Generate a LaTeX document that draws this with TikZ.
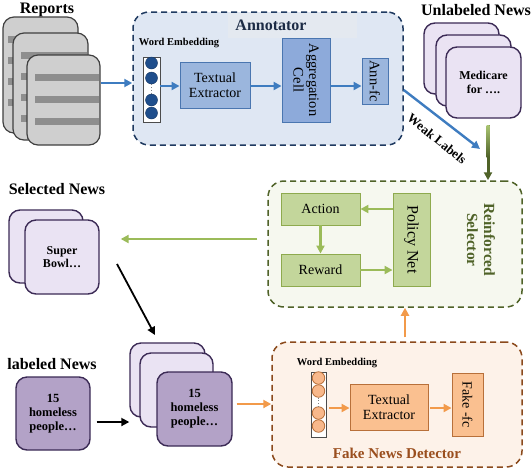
\documentclass[tikz,border=0pt]{standalone}
\usepackage{fontspec}
\setmainfont{Liberation Serif}
\usetikzlibrary{arrows.meta,calc}
\definecolor{annfill}{HTML}{DFE7F3}
\definecolor{annband}{HTML}{E4E9F0}
\definecolor{annborder}{HTML}{1F3A60}
\definecolor{bluebox}{HTML}{9BB6DD}
\definecolor{blueboxd}{HTML}{8DAADA}
\definecolor{blueline}{HTML}{4A76B0}
\definecolor{bluearrow}{HTML}{3E7CC0}
\definecolor{embblue}{HTML}{1F4E8C}
\definecolor{anntext}{HTML}{1C2B45}
\definecolor{docgray}{HTML}{CFCFCF}
\definecolor{bargray}{HTML}{8E8E8E}
\definecolor{docline}{HTML}{404040}
\definecolor{lav}{HTML}{EAE3F3}
\definecolor{purp}{HTML}{B3A2C7}
\definecolor{purpline}{HTML}{3B2A55}
\definecolor{selfill}{HTML}{F6F8EF}
\definecolor{selborder}{HTML}{4F6228}
\definecolor{greenbox}{HTML}{C3D69B}
\definecolor{greenline}{HTML}{8EAA4E}
\definecolor{greenarrow}{HTML}{9BBB59}
\definecolor{detfill}{HTML}{FDF2E9}
\definecolor{detborder}{HTML}{8B4A1C}
\definecolor{orangebox}{HTML}{FAC090}
\definecolor{orangeline}{HTML}{B8703A}
\definecolor{orangearrow}{HTML}{F29A4A}
\definecolor{embor}{HTML}{F8B88B}
\definecolor{dettext}{HTML}{9A4E1E}
\tikzset{
  graydoc/.style={draw=docline, fill=docgray, line width=1.2pt, rounded corners=11pt, inner sep=0pt},
  bar/.style={fill=bargray, draw=none},
  docbox/.style={draw=purpline, line width=1.4pt, rounded corners=11pt, inner sep=0pt, align=center,
    font=\fontsize{12.5}{14}\selectfont\bfseries},
  titletext/.style={font=\fontsize{16}{17}\selectfont\bfseries, inner sep=0pt},
  smalltitle/.style={font=\fontsize{10.5}{11}\selectfont\bfseries, inner sep=0pt},
  bigbox/.style={line width=1.5pt, dash pattern=on 6pt off 4pt, rounded corners=16pt, inner sep=0pt},
  blueblk/.style={draw=blueline, line width=0.9pt, inner sep=0pt, align=center, font=\fontsize{14}{15}\selectfont},
  greenblk/.style={draw=greenline, fill=greenbox, line width=0.9pt, inner sep=0pt, align=center, font=\fontsize{14}{15}\selectfont},
  orangeblk/.style={draw=orangeline, fill=orangebox, line width=0.9pt, inner sep=0pt, align=center, font=\fontsize{14}{15}\selectfont},
  bluearr/.style={draw=bluearrow, line width=2.4pt, -{Triangle[length=8pt,width=8pt]}},
  greenarr/.style={draw=greenarrow, line width=2.4pt, -{Triangle[length=8pt,width=8pt]}},
  orangearr/.style={draw=orangearrow, line width=2.4pt, -{Triangle[length=8pt,width=8pt]}},
  blackarr/.style={draw=black, line width=1.8pt, -{Triangle[length=8pt,width=8pt]}},
  embcol/.style={draw=black!70, line width=0.8pt, fill=white, inner sep=0pt},
}
\begin{document}
\begin{tikzpicture}[x=1pt,y=-1pt]
\useasboundingbox[fill=white] (0,0) rectangle (532,475);

% ---------------- Reports ----------------
\node[titletext] (reptitle) at (47,10) {Reports};
\node[graydoc, minimum width=75pt, minimum height=116pt] (rep1) at (40.5,75) {};
\foreach \o in {20,41,62,83}{\fill[bar] ($(rep1.north west)+(6,\o)$) rectangle ($(rep1.north east)+(-2,\o+7)$);}
\node[graydoc, minimum width=75pt, minimum height=107pt] (rep2) at (50.5,86.5) {};
\foreach \o in {20,41,62,83}{\fill[bar] ($(rep2.north west)+(9,\o)$) rectangle ($(rep2.north east)+(-2,\o+7)$);}
\node[graydoc, minimum width=73pt, minimum height=90pt] (rep3) at (63.5,100) {};
\foreach \o in {20,42,64}{\fill[bar] ($(rep3.north west)+(9,\o)$) rectangle ($(rep3.north east)+(-2,\o+7)$);}

% ---------------- Annotator ----------------
\node[bigbox, draw=annborder, fill=annfill, minimum width=270pt, minimum height=133pt] (ann) at (268,78.5) {};
\node[fill=annband, minimum width=129pt, minimum height=25pt, inner sep=0pt] (annband) at (292.5,25) {};
\node[font=\fontsize{16}{17}\selectfont\bfseries, text=anntext, inner sep=0pt] (anntitle) at (271,25) {Annotator};
\node[smalltitle] (we1) at (179,43) {Word Embedding};
\node[embcol, minimum width=17pt, minimum height=65pt] (emb1) at (151.5,89.5) {};
\foreach \yy/\nm in {63/a,78/b,100/c,113/d}{\node[circle, fill=embblue, draw=embblue!70!black, minimum size=12pt, inner sep=0pt] (c1\nm) at (151.5,\yy) {};}
\draw[black!50, line width=0.8pt, dotted] (c1b) -- (c1c);
\node[blueblk, fill=bluebox, minimum width=70pt, minimum height=46pt] (te1) at (215,85) {Textual\\Extractor};
\node[blueblk, fill=blueboxd, minimum width=84pt, minimum height=48pt, rotate=-90, font=\fontsize{14.5}{15.5}\selectfont] (agg) at (306,80) {Aggregation\\Cell};
\node[blueblk, fill=bluebox, minimum width=46pt, minimum height=26pt, rotate=-90, font=\fontsize{14.5}{15}\selectfont] (annfc) at (375,81) {Ann-fc};

\draw[bluearr] (rep3.east |- 0,83) -- (ann.west |- 0,83);
\draw[bluearr] (emb1.east |- 0,86) -- (te1.west |- 0,86);
\draw[bluearr] (te1.east |- 0,86) -- (agg.south |- 0,86);
\draw[bluearr] (agg.north |- 0,86) -- (annfc.south |- 0,86);

% ---------------- Unlabeled News ----------------
\node[titletext] (unltitle) at (476,10) {Unlabeled News};
\node[docbox, fill=lav, minimum width=75pt, minimum height=71pt] (unl1) at (461.5,58.5) {};
\node[docbox, fill=lav, minimum width=75pt, minimum height=71pt] (unl2) at (473.5,70.5) {};
\node[docbox, fill=lav, minimum width=75pt, minimum height=71pt, font=\fontsize{12}{14}\selectfont\bfseries] (unl3) at (483.5,82.5) {Medicare\\for ….};

% ---------------- Reinforced Selector ----------------
\node[bigbox, draw=selborder, fill=selfill, minimum width=254pt, minimum height=126pt] (sel) at (395,244) {};
\node[greenblk, minimum width=79pt, minimum height=32pt] (action) at (320.5,209) {Action};
\node[greenblk, minimum width=79pt, minimum height=32pt] (reward) at (320.5,270) {Reward};
\node[greenblk, minimum width=93pt, minimum height=37pt, rotate=-90, font=\fontsize{16}{17}\selectfont] (policy) at (411.5,239.5) {Policy Net};
\node[font=\fontsize{15.5}{17}\selectfont\bfseries, text=selborder, rotate=-90, align=center, inner sep=0pt] (seltitle) at (481,240) {Reinforced\\Selector};
\draw[greenarr] (policy.south |- action.east) -- (action.east);
\draw[greenarr] (action.south) -- (reward.north);
\draw[greenarr] (reward.east) -- (policy.south |- reward.east);

% weak labels
\coordinate (wlend) at (480,149);
\draw[bluearr] (ann.east |- 0,90) -- (wlend);
\node[font=\fontsize{13}{14}\selectfont\bfseries, rotate=-39, inner sep=0pt] (wl) at (437,139) {Weak Labels};

% green vertical arrow
\coordinate (gtop) at (488,125);
\draw[draw=selborder, line width=3pt, -{Triangle[length=8pt,width=8pt]}] (gtop) -- (gtop |- sel.north);
\shade[top color=greenarrow!85!white, bottom color=selborder] ($(gtop)+(-1.5,0)$) rectangle ($(gtop)+(1.5,32)$);

% ---------------- Selected News ----------------
\node[titletext] (seltit) at (57,189) {Selected News};
\node[docbox, fill=lav, minimum width=74pt, minimum height=73pt] (sn1) at (46,246.5) {};
\node[docbox, fill=lav, minimum width=74pt, minimum height=74pt, font=\fontsize{12}{13}\selectfont\bfseries] (sn2) at (62,257) {Super\\Bowl…};
\draw[greenarr] ($(sel.west |- 0,239)+(-10,0)$) -- ($(sn2.east |- 0,239)+(21,0)$);

% ---------------- Labeled News ----------------
\node[titletext] (labtitle) at (52,364) {labeled News};
\node[docbox, fill=purp, minimum width=74pt, minimum height=73pt] (lab) at (53,413.5) {15\\homeless\\people…};

% stacked
\node[docbox, fill=lav, minimum width=75pt, minimum height=74pt] (st1) at (167.5,380) {};
\node[docbox, fill=lav, minimum width=73pt, minimum height=74pt] (st2) at (176.5,390) {};
\node[docbox, fill=purp, minimum width=75pt, minimum height=74pt] (st3) at (194.5,409) {15\\homeless\\people…};

\coordinate (bkstart) at (117,264);
\coordinate (bkend) at (155,335);
\draw[blackarr] (bkstart) -- (bkend);
\draw[blackarr] ($(lab.east |- 0,422)+(6,0)$) -- (st1.west |- 0,422);

% ---------------- Fake News Detector ----------------
\node[bigbox, draw=detborder, fill=detfill, minimum width=250pt, minimum height=125pt] (det) at (397,404.5) {};
\node[smalltitle] (we2) at (337,363) {Word Embedding};
\node[embcol, minimum width=15pt, minimum height=65pt] (emb2) at (318.5,404.5) {};
\foreach \yy/\nm in {378/a,391/b,413/c,426/d}{\node[circle, fill=embor, draw=orangeline, line width=0.8pt, minimum size=12.5pt, inner sep=0pt] (c2\nm) at (318.5,\yy) {};}
\draw[black!50, line width=0.8pt, dotted] (c2b) -- (c2c);
\node[orangeblk, minimum width=78pt, minimum height=46pt] (te2) at (389,407) {Textual\\Extractor};
\node[orangeblk, minimum width=63pt, minimum height=31pt, rotate=-90] (fakefc) at (467.5,404.5) {Fake -fc};
\node[font=\fontsize{15}{16}\selectfont\bfseries, text=dettext, inner sep=0pt] (dettitle) at (397,453) {Fake News Detector};
\draw[orangearr] ($(emb2.east |- 0,408)+(3,0)$) -- (te2.west |- 0,408);
\draw[orangearr] ($(te2.east |- 0,408)+(2,0)$) -- (fakefc.south |- 0,408);
\draw[orangearr] ($(st3.east |- 0,404)+(4,0)$) -- (det.west |- 0,404);
\draw[orangearr] ($(det.north -| 405,0)+(0,-4)$) -- (sel.south -| 405,0);
\end{tikzpicture}
\end{document}
